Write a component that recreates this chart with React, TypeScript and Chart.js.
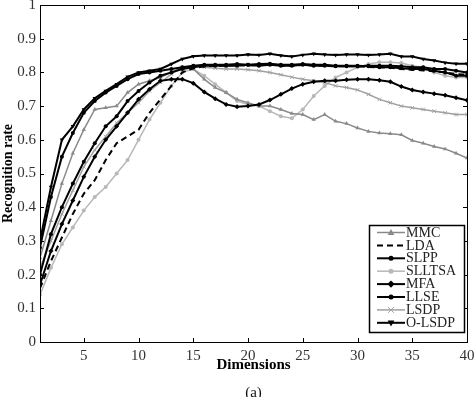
import React, { useEffect, useRef } from 'react';
import { Chart, registerables } from 'chart.js';

Chart.register(...registerables);

const DIMS = [1, 2, 3, 4, 5, 6, 7, 8, 9, 10, 11, 12, 13, 14, 15, 16, 17, 18, 19, 20, 21, 22, 23, 24, 25, 26, 27, 28, 29, 30, 31, 32, 33, 34, 35, 36, 37, 38, 39, 40];
const X_TICKS = [5, 10, 15, 20, 25, 30, 35, 40];
const Y_TICKS = [0, 0.1, 0.2, 0.3, 0.4, 0.5, 0.6, 0.7, 0.8, 0.9, 1];

const MMC = [0.25, 0.36, 0.47, 0.56, 0.63, 0.69, 0.695, 0.70, 0.74, 0.765, 0.775, 0.785, 0.80, 0.815, 0.81, 0.78, 0.755, 0.74, 0.72, 0.71, 0.70, 0.70, 0.69, 0.678, 0.675, 0.66, 0.675, 0.655, 0.648, 0.635, 0.625, 0.62, 0.618, 0.615, 0.598, 0.59, 0.58, 0.573, 0.56, 0.546];
const LDA = [0.16, 0.24, 0.31, 0.38, 0.44, 0.48, 0.54, 0.59, 0.61, 0.63, 0.68, 0.72, 0.76, 0.80, 0.812, 0.818, 0.82, 0.82, 0.822, 0.82, 0.822, 0.823, 0.82, 0.82, 0.822, 0.82, 0.82, 0.818, 0.818, 0.818, 0.816, 0.815, 0.814, 0.81, 0.808, 0.806, 0.803, 0.80, 0.795, 0.793];
const SLPP = [0.20, 0.32, 0.40, 0.47, 0.535, 0.59, 0.64, 0.67, 0.715, 0.745, 0.77, 0.79, 0.80, 0.81, 0.815, 0.82, 0.82, 0.82, 0.82, 0.823, 0.82, 0.823, 0.82, 0.82, 0.823, 0.82, 0.82, 0.818, 0.818, 0.818, 0.82, 0.82, 0.82, 0.818, 0.815, 0.815, 0.81, 0.81, 0.805, 0.80];
const SLLTSA = [0.14, 0.22, 0.29, 0.34, 0.39, 0.43, 0.46, 0.50, 0.54, 0.60, 0.66, 0.71, 0.76, 0.80, 0.81, 0.79, 0.765, 0.74, 0.715, 0.705, 0.70, 0.685, 0.67, 0.664, 0.69, 0.73, 0.76, 0.785, 0.80, 0.815, 0.825, 0.83, 0.83, 0.828, 0.82, 0.815, 0.80, 0.79, 0.785, 0.785];
const MFA = [0.17, 0.27, 0.35, 0.42, 0.49, 0.55, 0.60, 0.64, 0.68, 0.72, 0.75, 0.775, 0.78, 0.78, 0.768, 0.742, 0.722, 0.705, 0.698, 0.70, 0.705, 0.718, 0.735, 0.752, 0.765, 0.772, 0.775, 0.775, 0.778, 0.78, 0.78, 0.777, 0.772, 0.758, 0.748, 0.742, 0.737, 0.732, 0.725, 0.717];
const LLSE = [0.28, 0.43, 0.55, 0.62, 0.68, 0.715, 0.74, 0.76, 0.78, 0.795, 0.80, 0.805, 0.81, 0.815, 0.82, 0.823, 0.823, 0.823, 0.825, 0.823, 0.825, 0.826, 0.823, 0.823, 0.825, 0.823, 0.823, 0.82, 0.82, 0.82, 0.818, 0.815, 0.815, 0.812, 0.81, 0.81, 0.805, 0.80, 0.79, 0.79];
const LSDP = [0.22, 0.30, 0.38, 0.45, 0.52, 0.57, 0.61, 0.65, 0.68, 0.71, 0.745, 0.77, 0.795, 0.815, 0.82, 0.815, 0.812, 0.81, 0.81, 0.808, 0.805, 0.80, 0.793, 0.786, 0.78, 0.775, 0.77, 0.76, 0.755, 0.748, 0.735, 0.72, 0.71, 0.70, 0.695, 0.69, 0.685, 0.68, 0.675, 0.675];
const OLSDP = [0.30, 0.46, 0.60, 0.64, 0.69, 0.723, 0.745, 0.765, 0.787, 0.80, 0.805, 0.81, 0.825, 0.84, 0.848, 0.85, 0.85, 0.85, 0.85, 0.853, 0.852, 0.855, 0.85, 0.847, 0.852, 0.855, 0.853, 0.852, 0.853, 0.853, 0.852, 0.853, 0.855, 0.847, 0.847, 0.84, 0.835, 0.829, 0.826, 0.826];

const SERIES_NAMES = ['MMC', 'LDA', 'SLPP', 'SLLTSA', 'MFA', 'LLSE', 'LSDP', 'O-LSDP'];

type Style = { color: string; width: number; marker: string; radius: number; rotation: number; dash: number[]; order: number };
const STYLES: Style[] = [
  { color: '#8a8a8a', width: 1.5, marker: 'triangle', radius: 2.5, rotation: 0, dash: [], order: 10 },
  { color: '#000000', width: 2, marker: 'none', radius: 0, rotation: 0, dash: [6, 4], order: 2 },
  { color: '#000000', width: 2, marker: 'circle', radius: 2, rotation: 0, dash: [], order: 1 },
  { color: '#b8b8b8', width: 1.5, marker: 'circle', radius: 2, rotation: 0, dash: [], order: 11 },
  { color: '#000000', width: 2, marker: 'rectRot', radius: 2.5, rotation: 0, dash: [], order: 1 },
  { color: '#000000', width: 2, marker: 'circle', radius: 2, rotation: 0, dash: [], order: 1 },
  { color: '#a0a0a0', width: 1.5, marker: 'crossRot', radius: 2.5, rotation: 0, dash: [], order: 10 },
  { color: '#000000', width: 2, marker: 'triangle', radius: 2.5, rotation: 180, dash: [], order: 1 },
];

const FONT = "'Liberation Serif', 'Times New Roman', serif";

function drawMarker(ctx: CanvasRenderingContext2D, st: Style, x: number, y: number) {
  const r = st.radius + 0.5;
  ctx.save();
  ctx.fillStyle = st.color;
  ctx.strokeStyle = st.color;
  ctx.lineWidth = 1;
  ctx.setLineDash([]);
  ctx.beginPath();
  if (st.marker === 'circle') {
    ctx.arc(x, y, r, 0, Math.PI * 2);
    ctx.fill();
  } else if (st.marker === 'triangle') {
    const s = st.rotation === 180 ? -1 : 1;
    ctx.moveTo(x, y - s * r * 1.2);
    ctx.lineTo(x - r * 1.1, y + s * r * 0.8);
    ctx.lineTo(x + r * 1.1, y + s * r * 0.8);
    ctx.closePath();
    ctx.fill();
  } else if (st.marker === 'rectRot') {
    ctx.moveTo(x, y - r * 1.2);
    ctx.lineTo(x + r * 1.2, y);
    ctx.lineTo(x, y + r * 1.2);
    ctx.lineTo(x - r * 1.2, y);
    ctx.closePath();
    ctx.fill();
  } else if (st.marker === 'crossRot') {
    ctx.moveTo(x - r, y - r);
    ctx.lineTo(x + r, y + r);
    ctx.moveTo(x + r, y - r);
    ctx.lineTo(x - r, y + r);
    ctx.stroke();
  }
  ctx.restore();
}

export default function App() {
  const ref = useRef<HTMLCanvasElement>(null);
  useEffect(() => {
    document.body.style.margin = '0';
    const canvas = ref.current;
    if (!canvas) return;
    const seriesData = [MMC, LDA, SLPP, SLLTSA, MFA, LLSE, LSDP, OLSDP];

    const framePlugin = {
      id: 'frame',
      afterDraw(chart: any) {
        const { ctx, chartArea } = chart;
        const { left, right, top, bottom } = chartArea;
        const xs = chart.scales.x;
        const ys = chart.scales.y;
        ctx.save();
        ctx.strokeStyle = '#000';
        ctx.lineWidth = 1;
        ctx.setLineDash([]);
        ctx.strokeRect(Math.round(left) + 0.5, Math.round(top) + 0.5, Math.round(right - left), Math.round(bottom - top));
        ctx.beginPath();
        const tl = 4;
        X_TICKS.forEach((v) => {
          const px = Math.round(xs.getPixelForValue(v)) + 0.5;
          ctx.moveTo(px, bottom);
          ctx.lineTo(px, bottom - tl);
          ctx.moveTo(px, top);
          ctx.lineTo(px, top + tl);
        });
        Y_TICKS.forEach((v) => {
          const py = Math.round(ys.getPixelForValue(v)) + 0.5;
          ctx.moveTo(left, py);
          ctx.lineTo(left + tl, py);
          ctx.moveTo(right, py);
          ctx.lineTo(right - tl, py);
        });
        ctx.stroke();

        // legend
        const bx = 369.5, by = 225.5, bw = 95, bh = 107;
        ctx.fillStyle = '#fff';
        ctx.fillRect(bx, by, bw, bh);
        ctx.strokeStyle = '#000';
        ctx.lineWidth = 1.5;
        ctx.strokeRect(bx, by, bw, bh);
        ctx.font = `14px ${FONT}`;
        ctx.textBaseline = 'middle';
        ctx.textAlign = 'left';
        SERIES_NAMES.forEach((name, i) => {
          const st = STYLES[i];
          const y = 232.5 + i * 12.9;
          ctx.save();
          ctx.strokeStyle = st.color;
          ctx.lineWidth = st.width;
          ctx.setLineDash(st.dash);
          ctx.beginPath();
          ctx.moveTo(377, y);
          ctx.lineTo(405, y);
          ctx.stroke();
          ctx.restore();
          if (st.marker !== 'none') drawMarker(ctx, st, 391, y);
          ctx.fillStyle = '#222';
          ctx.fillText(name, 406, y + 0.5);
        });

        ctx.fillStyle = '#111';
        ctx.font = `15px ${FONT}`;
        ctx.textAlign = 'center';
        ctx.textBaseline = 'top';
        ctx.fillText('(a)', (left + right) / 2, 386);
        ctx.restore();
      },
    };

    const chart = new Chart(canvas, {
      type: 'line',
      data: {
        labels: DIMS,
        datasets: SERIES_NAMES.map((name, i) => {
          const st = STYLES[i];
          return {
            label: name,
            data: seriesData[i],
            borderColor: st.color,
            backgroundColor: st.color,
            borderWidth: st.width,
            borderDash: st.dash,
            pointStyle: st.marker === 'none' ? false : (st.marker as any),
            pointRadius: st.radius,
            pointRotation: st.rotation,
            pointBorderWidth: st.marker === 'crossRot' ? 1 : 0,
            pointBorderColor: st.color,
            pointBackgroundColor: st.color,
            tension: 0,
            fill: false,
            order: st.order,
          } as any;
        }),
      },
      options: {
        animation: false,
        responsive: false,
        devicePixelRatio: 1,
        layout: { padding: { top: 3, right: 7, left: 0, bottom: 0 } },
        plugins: { legend: { display: false }, tooltip: { enabled: false } },
        scales: {
          x: {
            type: 'linear',
            min: 1,
            max: 40,
            grid: { display: false, drawTicks: false },
            border: { display: false },
            afterBuildTicks: (s: any) => {
              s.ticks = X_TICKS.map((v) => ({ value: v }));
            },
            afterFit: (s: any) => {
              s.height = 55;
              s.paddingLeft = 0;
              s.paddingRight = 0;
            },
            ticks: {
              color: '#333',
              padding: 5,
              maxRotation: 0,
              autoSkip: false,
              font: { family: FONT, size: 15 },
              callback: (v: any) => String(v),
            },
            title: {
              display: true,
              text: 'Dimensions',
              color: '#000',
              font: { family: FONT, size: 15, weight: 'bold' },
              padding: { top: 0, bottom: 23 },
            },
          },
          y: {
            type: 'linear',
            min: 0,
            max: 1,
            grid: { display: false, drawTicks: false },
            border: { display: false },
            afterBuildTicks: (s: any) => {
              s.ticks = Y_TICKS.map((v) => ({ value: v }));
            },
            afterFit: (s: any) => {
              s.width = 40;
              s.paddingTop = 0;
              s.paddingBottom = 0;
            },
            ticks: {
              color: '#333',
              padding: 4,
              autoSkip: false,
              font: { family: FONT, size: 15 },
              callback: (v: any) => String(Number(Number(v).toFixed(1))),
            },
            title: {
              display: true,
              text: 'Recognition rate',
              color: '#000',
              font: { family: FONT, size: 14, weight: 'bold' },
              padding: { top: 0, bottom: 0 },
            },
          },
        },
      },
      plugins: [framePlugin],
    });
    return () => chart.destroy();
  }, []);
  return (
    <div style={{ position: 'absolute', left: 0, top: 0, width: 474, height: 397 }}>
      <canvas ref={ref} width={474} height={397} style={{ display: 'block', width: 474, height: 397 }} />
    </div>
  );
}
